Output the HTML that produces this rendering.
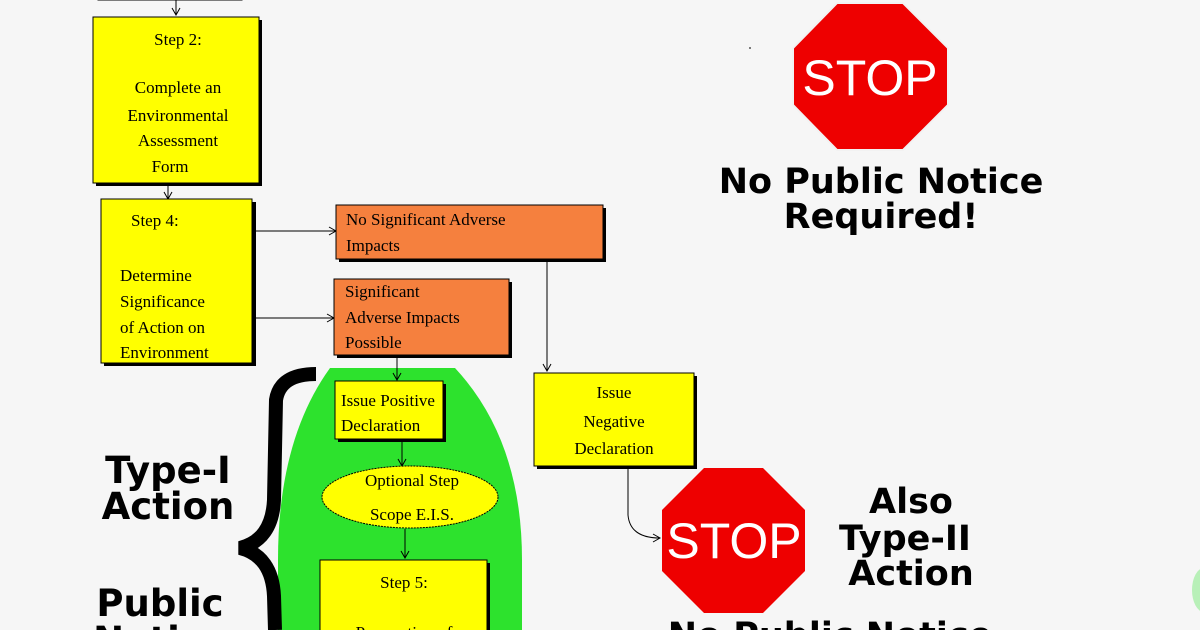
<!DOCTYPE html>
<html><head><style>
html,body{margin:0;padding:0;background:#f6f6f6;width:1200px;height:630px;overflow:hidden;}
svg{display:block;overflow:hidden}
.s{font-family:"Liberation Serif",serif;font-size:17px;fill:#000}
.b{font-family:"DejaVu Sans","Liberation Sans",sans-serif;font-weight:bold;fill:#000}
.st{font-family:"Liberation Sans",sans-serif;fill:#fff}
</style></head><body>
<svg width="1200" height="630" viewBox="0 0 1200 630" xmlns="http://www.w3.org/2000/svg">
<defs><marker id="a" markerWidth="10" markerHeight="10" refX="8" refY="5" orient="auto"><path d="M1,1 L8,5 L1,9" fill="none" stroke="#000" stroke-width="1"/></marker></defs>
<rect width="1200" height="630" fill="#f6f6f6"/>
<rect x="98" y="-4" width="144" height="4" fill="#ffff00" stroke="#000"/>
<line x1="176" y1="0" x2="176" y2="15" stroke="#000" marker-end="url(#a)"/>
<rect x="96" y="20" width="166" height="166" fill="#000"/>
<rect x="93" y="17" width="166" height="166" fill="#ffff00" stroke="#000"/>
<g class="s" text-anchor="middle"><text x="178" y="45">Step 2:</text><text x="178" y="93">Complete an</text><text x="178" y="121">Environmental</text><text x="178" y="146">Assessment</text><text x="170" y="172">Form</text></g>
<line x1="168" y1="183" x2="168" y2="199" stroke="#000" marker-end="url(#a)"/>
<rect x="104" y="202" width="152" height="164" fill="#000"/>
<rect x="101" y="199" width="151" height="164" fill="#ffff00" stroke="#000"/>
<g class="s"><text x="131" y="226">Step 4:</text><text x="120" y="281">Determine</text><text x="120" y="307">Significance</text><text x="120" y="333">of Action on</text><text x="120" y="358">Environment</text></g>
<line x1="256" y1="231" x2="336" y2="231" stroke="#000" marker-end="url(#a)"/>
<line x1="256" y1="318" x2="334" y2="318" stroke="#000" marker-end="url(#a)"/>
<rect x="339" y="208" width="267" height="54" fill="#000"/>
<rect x="336" y="205" width="267" height="54" fill="#f5803e" stroke="#000"/>
<g class="s"><text x="346" y="225">No Significant Adverse</text><text x="346" y="251">Impacts</text></g>
<rect x="337" y="282" width="175" height="76" fill="#000"/>
<rect x="334" y="279" width="175" height="76" fill="#f5803e" stroke="#000"/>
<g class="s"><text x="345" y="297">Significant</text><text x="345" y="323">Adverse Impacts</text><text x="345" y="348">Possible</text></g>
<line x1="547" y1="262" x2="547" y2="371" stroke="#000" marker-end="url(#a)"/>
<path d="M330,368 L455,368 Q522,440 522,560 L522,630 L278,630 L278,560 Q278,440 330,368 Z" fill="#2de22d"/>
<path d="M316,374 Q280,374 276,400 L274,500 Q272,540 240,548 Q272,556 274,596 L275,630" fill="none" stroke="#000" stroke-width="14"/>
<line x1="397" y1="356" x2="397" y2="380" stroke="#000" marker-end="url(#a)"/>
<rect x="338" y="384" width="108" height="58" fill="#000"/>
<rect x="335" y="381" width="108" height="58" fill="#ffff00" stroke="#000"/>
<g class="s"><text x="341" y="406">Issue Positive</text><text x="341" y="431">Declaration</text></g>
<line x1="402" y1="441" x2="402" y2="466" stroke="#000" marker-end="url(#a)"/>
<ellipse cx="410" cy="497" rx="88" ry="31" fill="#ffff00" stroke="#000" stroke-dasharray="2,1"/>
<g class="s" text-anchor="middle"><text x="412" y="486">Optional Step</text><text x="412" y="520">Scope E.I.S.</text></g>
<line x1="405" y1="529" x2="405" y2="558" stroke="#000" marker-end="url(#a)"/>
<rect x="323" y="563" width="167" height="67" fill="#000"/>
<rect x="320" y="560" width="167" height="72" fill="#ffff00" stroke="#000"/>
<g class="s" text-anchor="middle"><text x="404" y="588">Step 5:</text><text x="404" y="638">Preparation of</text></g>
<rect x="537" y="376" width="160" height="93" fill="#000"/>
<rect x="534" y="373" width="160" height="93" fill="#ffff00" stroke="#000"/>
<g class="s" text-anchor="middle"><text x="614" y="398">Issue</text><text x="614" y="427">Negative</text><text x="614" y="454">Declaration</text></g>
<path d="M628,468 L628,515 Q630,538 660,538" fill="none" stroke="#000" marker-end="url(#a)"/>
<g class="b" text-anchor="middle" font-size="37"><text x="168" y="483">Type-I</text><text x="168" y="519">Action</text><text x="160" y="616">Public</text><text x="160" y="653">Notice</text></g>
<polygon points="837,3 903,3 948,48 948,105 903,150 837,150 793,105 793,48" fill="#ee0000" stroke="#f2f2f2" stroke-width="2"/>
<text class="st" x="870" y="95" text-anchor="middle" font-size="50">STOP</text>
<polygon points="704,468 763,468 805,510 805,571 763,613 704,613 662,571 662,510" fill="#ee0000"/>
<text class="st" x="734" y="558" text-anchor="middle" font-size="50">STOP</text>
<circle cx="750" cy="48" r="1" fill="#555"/>
<g class="b" text-anchor="middle" font-size="35"><text x="881" y="193">No Public Notice</text><text x="881" y="228">Required!</text>
<text x="911" y="513">Also</text><text x="905" y="550">Type-II</text><text x="911" y="585">Action</text>
<text x="830" y="647">No Public Notice</text></g>
<ellipse cx="1204" cy="590" rx="12" ry="22" fill="#b8f0b8"/>
</svg>
</body></html>
